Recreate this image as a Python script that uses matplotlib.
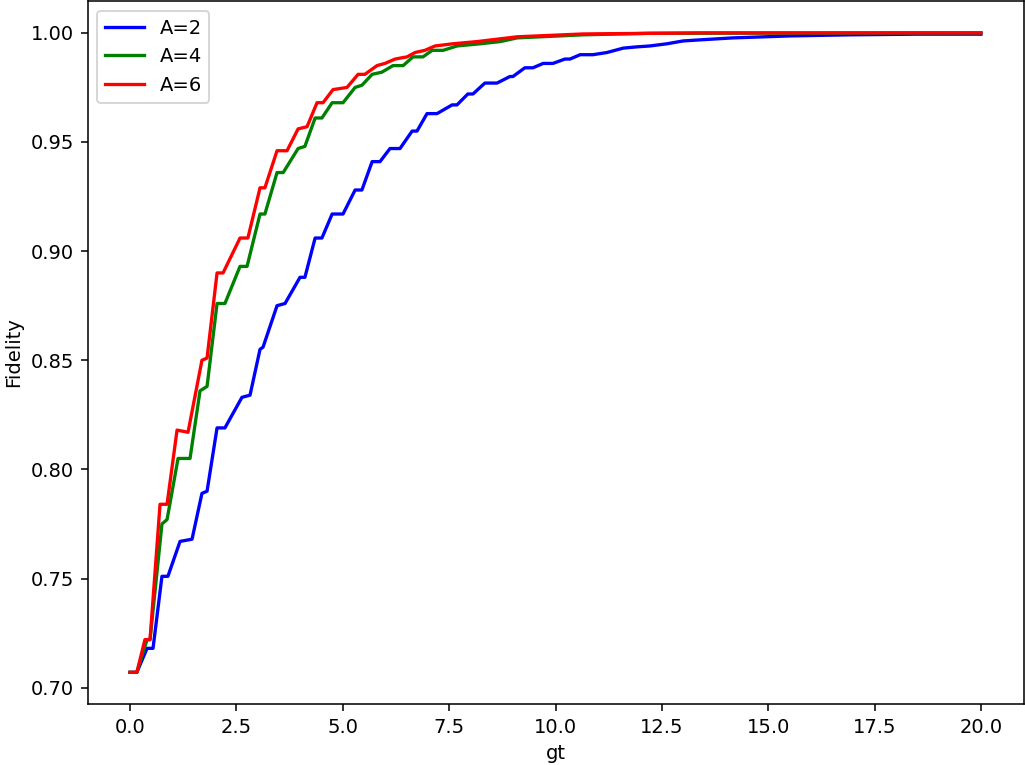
import matplotlib
matplotlib.use("Agg")
import matplotlib.pyplot as plt

# Values (gt, Fidelity)
gt_a2 = [0.0, 0.16, 0.40, 0.54, 0.75, 0.89, 1.175, 1.457, 1.69, 1.81, 2.045, 2.23,
         2.63, 2.82, 3.055, 3.126, 3.455, 3.643, 3.995, 4.11, 4.35, 4.51, 4.75, 5.006,
         5.29, 5.45, 5.69, 5.875, 6.11, 6.345, 6.63, 6.745, 6.98, 7.215, 7.57, 7.685,
         7.94, 8.06, 8.34, 8.625, 8.93, 9.00, 9.28, 9.47, 9.71, 9.94, 10.22, 10.34,
         10.58, 10.88, 11.21, 11.59, 11.92, 12.22, 12.62, 13.0, 13.4, 14.17, 15.51,
         16.92, 18.5, 20.0]
fid_a2 = [0.707, 0.707, 0.718, 0.718, 0.751, 0.751, 0.767, 0.768, 0.789, 0.790, 0.819, 0.819,
          0.833, 0.834, 0.855, 0.856, 0.875, 0.876, 0.888, 0.888, 0.906, 0.906, 0.917, 0.917,
          0.928, 0.928, 0.941, 0.941, 0.947, 0.947, 0.955, 0.955, 0.963, 0.963, 0.967, 0.967,
          0.972, 0.972, 0.977, 0.977, 0.980, 0.980, 0.984, 0.984, 0.986, 0.986, 0.988, 0.988,
          0.990, 0.990, 0.991, 0.993, 0.9936, 0.994, 0.995, 0.9963, 0.9968, 0.9977, 0.9986,
          0.9991, 0.9994, 0.9994]

gt_a4 = [0.0, 0.16, 0.40, 0.47, 0.75, 0.87, 1.128, 1.41, 1.645, 1.81, 2.045, 2.23,
         2.585, 2.75, 3.055, 3.17, 3.455, 3.60, 3.95, 4.11, 4.35, 4.51, 4.75, 5.006,
         5.29, 5.45, 5.69, 5.92, 6.18, 6.42, 6.65, 6.886, 7.10, 7.36, 7.685, 8.23,
         8.70, 9.10, 10.65, 12.2, 20.0]
fid_a4 = [0.707, 0.707, 0.722, 0.722, 0.775, 0.777, 0.805, 0.805, 0.836, 0.838, 0.876, 0.876,
          0.893, 0.893, 0.917, 0.917, 0.936, 0.936, 0.947, 0.948, 0.961, 0.961, 0.968, 0.968,
          0.975, 0.976, 0.981, 0.982, 0.985, 0.985, 0.989, 0.989, 0.992, 0.992, 0.994, 0.995,
          0.996, 0.9977, 0.9991, 0.9998, 1.0]

gt_a6 = [0.0, 0.16, 0.35, 0.47, 0.705, 0.87, 1.105, 1.363, 1.69, 1.81, 2.045, 2.186,
         2.585, 2.77, 3.055, 3.17, 3.455, 3.69, 3.95, 4.16, 4.395, 4.536, 4.77, 5.10,
         5.36, 5.52, 5.805, 5.99, 6.23, 6.51, 6.70, 6.93, 7.17, 7.59, 8.155, 9.10,
         10.65, 13.4, 20.0]
fid_a6 = [0.707, 0.707, 0.722, 0.722, 0.784, 0.784, 0.818, 0.817, 0.850, 0.851, 0.890, 0.890,
          0.906, 0.906, 0.929, 0.929, 0.946, 0.946, 0.956, 0.957, 0.968, 0.968, 0.974, 0.975,
          0.981, 0.981, 0.985, 0.986, 0.988, 0.989, 0.991, 0.992, 0.994, 0.995, 0.996, 0.9982,
          0.9995, 1.0, 1.0]

labels = ["A=2", "A=4", "A=6"]
colors = ["blue", "green", "red"]

DPI = 140
fig = plt.figure(figsize=(1025 / DPI, 765 / DPI), dpi=DPI)
ax = fig.add_axes([87.5 / 1025, 61 / 765, 936 / 1025, 703 / 765])

for xs, ys, lab, col in zip([gt_a2, gt_a4, gt_a6], [fid_a2, fid_a4, fid_a6], labels, colors):
    ax.plot(xs, ys, color=col, label=lab, linewidth=1.7,
            solid_joinstyle="round")

ax.set_xlim(-1, 21)
ax.set_ylim(0.6925, 1.0146)
ax.set_xticks([0, 2.5, 5, 7.5, 10, 12.5, 15, 17.5, 20])
ax.set_yticks([0.70, 0.75, 0.80, 0.85, 0.90, 0.95, 1.00])
ax.set_yticklabels(["0.70", "0.75", "0.80", "0.85", "0.90", "0.95", "1.00"])
ax.set_xlabel("gt")
ax.set_ylabel("Fidelity")
ax.legend(loc="upper left")

fig.savefig("out.png", dpi=DPI)
